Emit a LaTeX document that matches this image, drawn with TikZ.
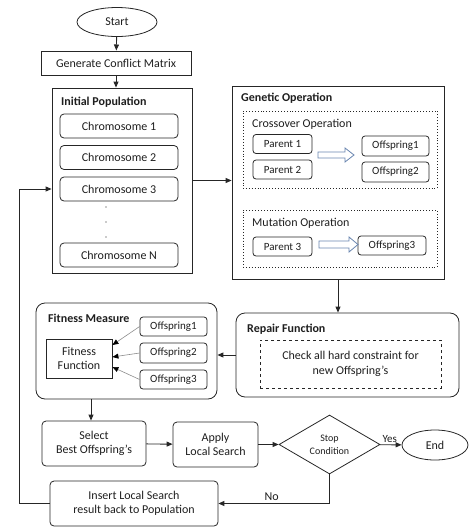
\documentclass[tikz,border=0pt]{standalone}
\usepackage{fontspec}
\setmainfont{Carlito}
\usetikzlibrary{shapes.geometric,arrows.meta,calc}
\definecolor{txt}{HTML}{1E1E1E}
\definecolor{ln}{HTML}{262626}
\definecolor{arrowblue}{HTML}{6A86B0}
\definecolor{thin}{HTML}{8C8C8C}
\begin{document}
\begin{tikzpicture}[x=1pt,y=-1pt,
  every node/.style={font=\fontsize{12}{14.5}\selectfont, text=txt},
  box/.style={draw=ln, line width=0.8pt, inner sep=0pt, align=center},
  rbox/.style={box, rounded corners=4pt},
  bigr/.style={box, rounded corners=9pt},
  sbox/.style={box, rounded corners=3pt, font=\fontsize{11}{13}\selectfont},
  title/.style={anchor=west, inner sep=0pt, font=\bfseries\fontsize{12}{14}\selectfont},
  subtitle/.style={anchor=west, inner sep=0pt},
  dotbox/.style={draw=ln, dotted, line width=0.9pt, inner sep=0pt},
  harrow/.style={draw=arrowblue, fill=white, line width=0.8pt, line join=miter},
  arr/.style={draw=ln, line width=0.9pt, -{Triangle[length=6pt,width=5pt]}},
  farr/.style={draw=thin, line width=0.6pt, -{Triangle[length=6pt,width=5pt,color=black]}},
]
\useasboundingbox (0,0) rectangle (474,528);

% start and matrix
\node[box, ellipse, minimum width=80pt, minimum height=29pt] (start) at (117,22) {Start};
\node[box, line width=1pt, minimum width=150pt, minimum height=24pt] (gen) at (116,63) {Generate Conflict Matrix};

% initial population
\node[box, minimum width=140pt, minimum height=185pt] (ip) at (122,180.5) {};
\node[title] (iptitle) at (61,102) {Initial Population};
\node[rbox, minimum width=118pt, minimum height=24pt] (c1) at (119,126) {Chromosome 1};
\node[rbox, minimum width=118pt, minimum height=24pt] (c2) at (119,157.5) {Chromosome 2};
\node[rbox, minimum width=118pt, minimum height=24pt] (c3) at (119,189) {Chromosome 3};
\node[rbox, minimum width=118pt, minimum height=24pt] (cn) at (119,255) {Chromosome N};
\fill[txt] (106,207) circle (0.7pt) (106,222) circle (0.7pt) (106,237) circle (0.7pt);

% genetic operation
\node[box, minimum width=212pt, minimum height=193pt] (go) at (338,182.5) {};
\node[title] (gotitle) at (241,98) {Genetic Operation};
\node[dotbox, minimum width=194pt, minimum height=77pt] (cross) at (340,149.5) {};
\node[subtitle] (crosstitle) at (252,124) {Crossover Operation};
\node[sbox, minimum width=59pt, minimum height=19pt] (p1) at (282.5,144) {Parent 1};
\node[sbox, minimum width=59pt, minimum height=19pt] (p2) at (282.5,169.5) {Parent 2};
\node[sbox, minimum width=67pt, minimum height=20pt] (o1) at (395.5,146) {Offspring1};
\node[sbox, minimum width=67pt, minimum height=20pt] (o2) at (395.5,172) {Offspring2};
\draw[harrow] (318,152) -- (345,152) -- (345,148) -- (354,155) -- (345,162) -- (345,158) -- (318,158) -- cycle;
\node[dotbox, minimum width=194pt, minimum height=57pt] (mut) at (340,238.5) {};
\node[subtitle] (muttitle) at (252,223) {Mutation Operation};
\node[sbox, minimum width=59pt, minimum height=19pt] (p3) at (282.5,246.5) {Parent 3};
\node[sbox, minimum width=68pt, minimum height=19pt] (o3) at (392,245.5) {Offspring3};
\draw[harrow] (319,241) -- (349,241) -- (349,237) -- (358,244.5) -- (349,252) -- (349,248) -- (319,248) -- cycle;

% fitness measure
\node[bigr, minimum width=181pt, minimum height=96pt] (fm) at (126.5,351) {};
\node[title] (fmtitle) at (48,318) {Fitness Measure};
\node[box, minimum width=66pt, minimum height=39pt] (ff) at (79,358.5) {Fitness\\Function};
\node[sbox, minimum width=67pt, minimum height=19pt] (f1) at (173.5,326.5) {Offspring1};
\node[sbox, minimum width=67pt, minimum height=20pt] (f2) at (173.5,353) {Offspring2};
\node[sbox, minimum width=67pt, minimum height=19pt] (f3) at (173.5,379.5) {Offspring3};

% repair function
\node[bigr, minimum width=223pt, minimum height=84pt] (rep) at (347.5,355) {};
\node[title] (reptitle) at (247,329) {Repair Function};
\node[box, dashed, line width=0.9pt, minimum width=181pt, minimum height=48pt] (chk) at (350.5,364)
  {Check all hard constraint for\\new Offspring's};

% bottom row
\node[rbox, minimum width=104pt, minimum height=45pt] (sel) at (94,443.5) {Select\\Best Offspring's};
\node[rbox, minimum width=85pt, minimum height=45pt] (app) at (215.5,444.5) {Apply\\Local Search};
\node[box, diamond, aspect=1.7, minimum width=101pt, minimum height=59pt,
      font=\fontsize{10}{13}\selectfont] (stop) at (329.5,444.5) {Stop\\Condition};
\node[box, ellipse, minimum width=66pt, minimum height=30pt] (end) at (435,445) {End};
\node[rbox, minimum width=168pt, minimum height=45pt] (ins) at (134,503.5)
  {Insert Local Search\\result back to Population};

% connectors
\draw[arr] (start) -- (gen);
\draw[arr] (gen) -- (gen.south |- ip.north);
\draw[arr] (ip.east) -- (ip.east -| go.west);
\draw[arr] (go.south) -- (go.south |- rep.north);
\draw[arr] (rep.west) -- (rep.west -| fm.east);
\draw[farr] (f1.west) -- ([yshift=13.5pt]ff.east);
\draw[farr] (f2.west) -- ([yshift=1.5pt]ff.east);
\draw[farr] (f3.west) -- ([yshift=-8.5pt]ff.east);
\draw[arr] ([xshift=-3pt]fm.south -| sel.north) -- ([xshift=-3pt]sel.north);
\draw[arr] (sel) -- (app);
\draw[arr] (app) -- (stop);
\draw[arr] (stop) -- node[above, pos=0.45, inner sep=2pt, font=\fontsize{11}{13}\selectfont] {Yes} (end);
\draw[arr] (stop.south) |- node[pos=0.76, above, inner sep=2pt] {No} (ins.east);
\draw[arr] (ins.west) -- ++(-30,0) |- ([yshift=-8.5pt]ip.west);
\end{tikzpicture}
\end{document}
